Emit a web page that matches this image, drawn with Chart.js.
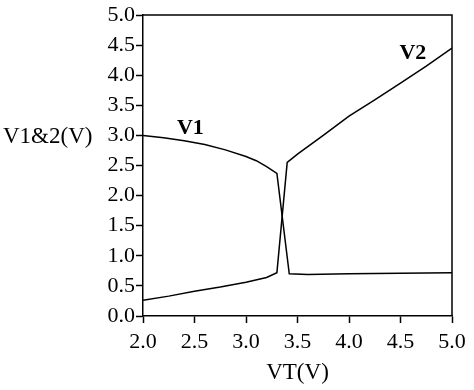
<!DOCTYPE html>
<html>
<head>
<meta charset="utf-8">
<script src="https://cdn.jsdelivr.net/npm/chart.js@4.4.1/dist/chart.umd.min.js"></script>
<style>
  html, body { margin: 0; padding: 0; background: #fff; }
  #wrap { width: 474px; height: 390px; }
</style>
</head>
<body>
<div id="wrap"><canvas id="grafica"></canvas></div>
<script>
// datos
var vtV1 = [2.0, 2.2, 2.4, 2.6, 2.8, 3.0, 3.1, 3.2, 3.3, 3.42, 3.6, 4.0, 4.5, 5.0];
var v1   = [3.00, 2.96, 2.91, 2.85, 2.76, 2.65, 2.58, 2.48, 2.37, 0.70, 0.69, 0.70, 0.71, 0.72];
var vtV2 = [2.0, 2.25, 2.5, 2.75, 3.0, 3.2, 3.3, 3.4, 3.5, 3.75, 4.0, 4.25, 4.5, 4.75, 5.0];
var v2   = [0.26, 0.33, 0.41, 0.48, 0.56, 0.64, 0.72, 2.55, 2.69, 3.00, 3.32, 3.59, 3.87, 4.15, 4.45];
var yTicks = [0.0, 0.5, 1.0, 1.5, 2.0, 2.5, 3.0, 3.5, 4.0, 4.5, 5.0];
var xTicks = [2.0, 2.5, 3.0, 3.5, 4.0, 4.5, 5.0];
var nombres = ['V1', 'V2'];

function puntos(xs, ys) {
    return xs.map(function (x, i) { return { x: x, y: ys[i] }; });
}

var serif = "'Liberation Serif', 'DejaVu Serif', serif";

// caja, titulo del eje y, etiquetas de curva
var extras = {
    id: 'extras',
    afterDraw: function (chart) {
        var c = chart.ctx, a = chart.chartArea;
        var sx = chart.scales.x, sy = chart.scales.y;
        c.save();
        c.strokeStyle = '#000';
        c.lineWidth = 1.5;
        c.beginPath();
        c.moveTo(a.left, a.top);
        c.lineTo(a.right, a.top);
        c.lineTo(a.right, a.bottom);
        c.stroke();

        c.fillStyle = '#000';
        c.font = '23px ' + serif;
        c.textAlign = 'left';
        c.textBaseline = 'middle';
        c.fillText('V1&2(V)', 3, sy.getPixelForValue(3.0) + 2);

        c.font = 'bold 22px ' + serif;
        c.textAlign = 'center';
        c.fillText(nombres[0], sx.getPixelForValue(2.46), sy.getPixelForValue(3.12));
        c.fillText(nombres[1], sx.getPixelForValue(4.62), sy.getPixelForValue(4.37));
        c.restore();
    }
};

var ctx = document.getElementById('grafica').getContext('2d');
var chart = new Chart(ctx, {
    type: 'scatter',
    data: {
        datasets: [{
            label: nombres[0],
            data: puntos(vtV1, v1),
            showLine: true,
            borderColor: '#000',
            borderWidth: 1.5,
            pointRadius: 0,
            tension: 0
        }, {
            label: nombres[1],
            data: puntos(vtV2, v2),
            showLine: true,
            borderColor: '#000',
            borderWidth: 1.5,
            pointRadius: 0,
            tension: 0
        }]
    },
    options: {
        responsive: true,
        maintainAspectRatio: false,
        animation: false,
        layout: { padding: { top: 15, right: 22, left: 0, bottom: 0 } },
        plugins: { legend: { display: false }, tooltip: { enabled: false } },
        scales: {
            x: {
                type: 'linear',
                min: 2, max: 5,
                afterBuildTicks: function (s) { s.ticks = xTicks.map(function (v) { return { value: v }; }); },
                afterFit: function (s) { s.height = 74; },
                grid: { drawOnChartArea: false, color: '#000', tickLength: 7, tickWidth: 1.5 },
                border: { color: '#000', width: 1.5 },
                ticks: {
                    color: '#000', padding: 6,
                    font: { family: serif, size: 22 },
                    callback: function (v) { return v.toFixed(1); }
                },
                title: {
                    display: true, text: 'VT(V)', color: '#000',
                    font: { family: serif, size: 23 },
                    padding: { top: 4, bottom: 3 }
                }
            },
            y: {
                min: 0, max: 5,
                afterBuildTicks: function (s) { s.ticks = yTicks.map(function (v) { return { value: v }; }); },
                afterFit: function (s) { s.width = 143; },
                grid: { drawOnChartArea: false, color: '#000', tickLength: 7, tickWidth: 1.5 },
                border: { color: '#000', width: 1.5 },
                ticks: {
                    color: '#000', padding: 1,
                    font: { family: serif, size: 22 },
                    callback: function (v) { return v.toFixed(1); }
                }
            }
        }
    },
    plugins: [extras]
});
</script>
</body>
</html>
